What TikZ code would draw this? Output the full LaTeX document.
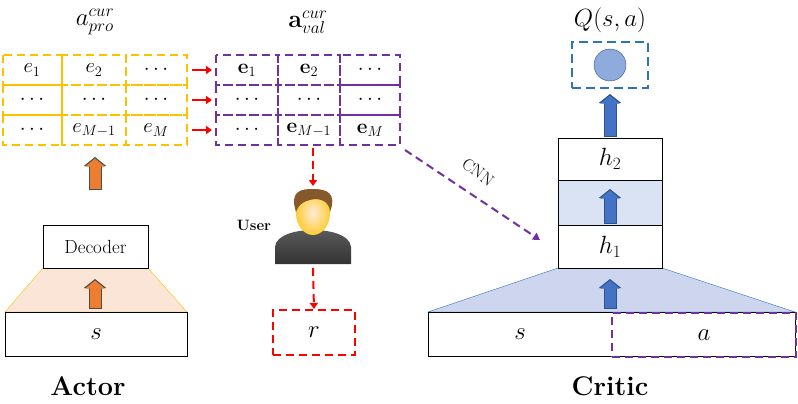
\documentclass[tikz,border=0pt]{standalone}
\usetikzlibrary{arrows.meta}
\definecolor{yel}{HTML}{FFC000}
\definecolor{pur}{HTML}{7030A0}
\definecolor{org}{HTML}{ED7D31}
\definecolor{peach}{HTML}{FBE5D6}
\definecolor{bl}{HTML}{4472C4}
\definecolor{bld}{HTML}{2F528F}
\definecolor{blf}{HTML}{DAE3F3}
\definecolor{blt}{HTML}{CDD6EE}
\definecolor{bdash}{HTML}{2E75B6}
\definecolor{circ}{HTML}{8FAADC}
\newcommand{\fsz}[1]{\fontsize{#1}{#1}\selectfont}
\begin{document}
\begin{tikzpicture}[x=1pt,y=-1pt,
 ycell/.style={draw=yel,line width=2pt,dash pattern=on 8pt off 5pt},
 pcell/.style={draw=pur,line width=2pt,dash pattern=on 8pt off 5pt},
 box/.style={draw=black,fill=white},
 redarr/.style={red,line width=2pt,-{Triangle[length=6pt,width=8pt]}},
 cell/.style={font=\fsz{20}}]
\useasboundingbox (0,0) rectangle (798,404);
% labels
\node (ap) at (95,22) {\fsz{25}$a^{cur}_{pro}$};
\node (av) at (308,22) {\fsz{25}$\mathbf{a}^{cur}_{val}$};
\node (q) at (610,20) {\fsz{23}$Q(s,a)$};
% grids
\foreach \xa/\xb in {3/62,62/126,126/187}
 \foreach \ya/\yb in {55/85,85/115,115/145}
  \draw[ycell] (\xa,\ya) rectangle (\xb,\yb);
\foreach \xa/\xb in {216/278,278/340,340/400}
 \foreach \ya/\yb in {55/85,85/115,115/145}
  \draw[pcell] (\xa,\ya) rectangle (\xb,\yb);
\node[cell] at (32,70) {$e_1$}; \node[cell] at (94,70) {$e_2$}; \node[cell] at (156,70) {$\cdots$};
\node[cell] at (32,100) {$\cdots$}; \node[cell] at (94,100) {$\cdots$}; \node[cell] at (156,100) {$\cdots$};
\node[cell] at (32,130) {$\cdots$}; \node[cell] at (94,130) {$e_{M-1}$}; \node[cell] at (156,130) {$e_M$};
\node[cell] at (247,70) {$\mathbf{e}_1$}; \node[cell] at (309,70) {$\mathbf{e}_2$}; \node[cell] at (370,70) {$\cdots$};
\node[cell] at (247,100) {$\cdots$}; \node[cell] at (309,100) {$\cdots$}; \node[cell] at (370,100) {$\cdots$};
\node[cell] at (247,130) {$\cdots$}; \node[cell] at (309,130) {$\mathbf{e}_{M-1}$}; \node[cell] at (370,130) {$\mathbf{e}_M$};
\foreach \y in {70,100,130} \draw[redarr] (192,\y) -- (212,\y);
% Actor
\fill[peach,draw=yel] (5,312) -- (43,268) -- (148,268) -- (187,312) -- cycle;
\node[box,minimum width=182pt,minimum height=44pt] (s1) at (96,334) {\fsz{26}$s$};
\node[box,minimum width=105pt,minimum height=43pt,font=\fsz{19}] (dec) at (95.5,246.5) {Decoder};
\draw[-{Triangle[length=9pt,width=22pt]},line width=13pt,draw=black!70] (95,309) -- (95,279);
\draw[-{Triangle[length=8pt,width=19pt]},line width=11pt,draw=org] (95,308) -- (95,280.5);
\draw[-{Triangle[length=9pt,width=22pt]},line width=13pt,draw=black!70] (95,190) -- (95,157);
\draw[-{Triangle[length=8pt,width=19pt]},line width=11pt,draw=org] (95,189) -- (95,158.5);
\node[font=\fsz{27}\bfseries] (actor) at (88,386) {Actor};
% User
\coordinate (ut) at (313,148);
\draw[redarr,dash pattern=on 8pt off 5pt] (ut) -- (313,186);
\shade[top color=gray!70!black,bottom color=gray!40!black] (275,264) -- (275,247) .. controls (276,234) and (298,230) .. (313,230) .. controls (328,230) and (350,234) .. (351,247) -- (351,264) -- cycle;
\shade[inner color=orange!15!white,outer color=orange!50!yellow!80!white] (313,213) ellipse (17pt and 22pt);
\fill[brown!70!black] (296,212) .. controls (289,190) and (302,189) .. (313,189) .. controls (327,189) and (337,193) .. (330,212) .. controls (329,202) and (324,200) .. (316,199) .. controls (306,200) and (299,203) .. (296,212) -- cycle;
\node[font=\fsz{15}\bfseries] (user) at (254,225) {User};
\node[draw=red,line width=2pt,dash pattern=on 8pt off 5pt,minimum width=82pt,minimum height=45pt] (r) at (314,332.5) {\fsz{26}$r$};
\draw[redarr,dash pattern=on 8pt off 5pt] (313,268) -- (r.north);
% CNN
\coordinate (c1) at (405,150); \coordinate (c2) at (540,240);
\draw[pur,line width=2pt,dash pattern=on 8pt off 5pt,-{Triangle[length=7pt,width=8pt]}] (c1) -- (c2);
\node[rotate=-37,font=\fsz{17}] (cnn) at (478,172) {CNN};
% Critic
\fill[blt,draw=bdash] (428,312) -- (558,268) -- (662,268) -- (795,312) -- cycle;
\node[box,minimum width=367pt,minimum height=44pt,anchor=north west] (sa) at (428,312) {};
\node at (520,334) {\fsz{26}$s$};
\node[pcell,minimum width=184pt,minimum height=44pt,anchor=north west] (a) at (611,312) {\fsz{26}$a$};
\node[box,minimum width=104pt,minimum height=43pt] (h1) at (610,246.5) {\fsz{25}$h_1$};
\node[draw=black,fill=blf,minimum width=104pt,minimum height=45pt] (mid) at (610,202.5) {};
\node[box,minimum width=104pt,minimum height=42pt] (h2) at (610,159) {\fsz{25}$h_2$};
\foreach \ya/\yb in {309/279,224/189,137/94}{
 \draw[-{Triangle[length=9pt,width=22pt]},line width=13pt,draw=bld] (610,\ya) -- (610,\yb);
 \draw[-{Triangle[length=8pt,width=19pt]},line width=11pt,draw=bl] (610,\ya-1) -- (610,\yb+1.5);}
\node[draw=bdash,line width=2.4pt,dash pattern=on 9pt off 5pt,minimum width=76pt,minimum height=46pt] (qb) at (610,65) {};
\draw[bld,fill=circ] (610,65) circle (16pt);
\node[font=\fsz{27}\bfseries] (critic) at (610,386) {Critic};
\end{tikzpicture}
\end{document}
